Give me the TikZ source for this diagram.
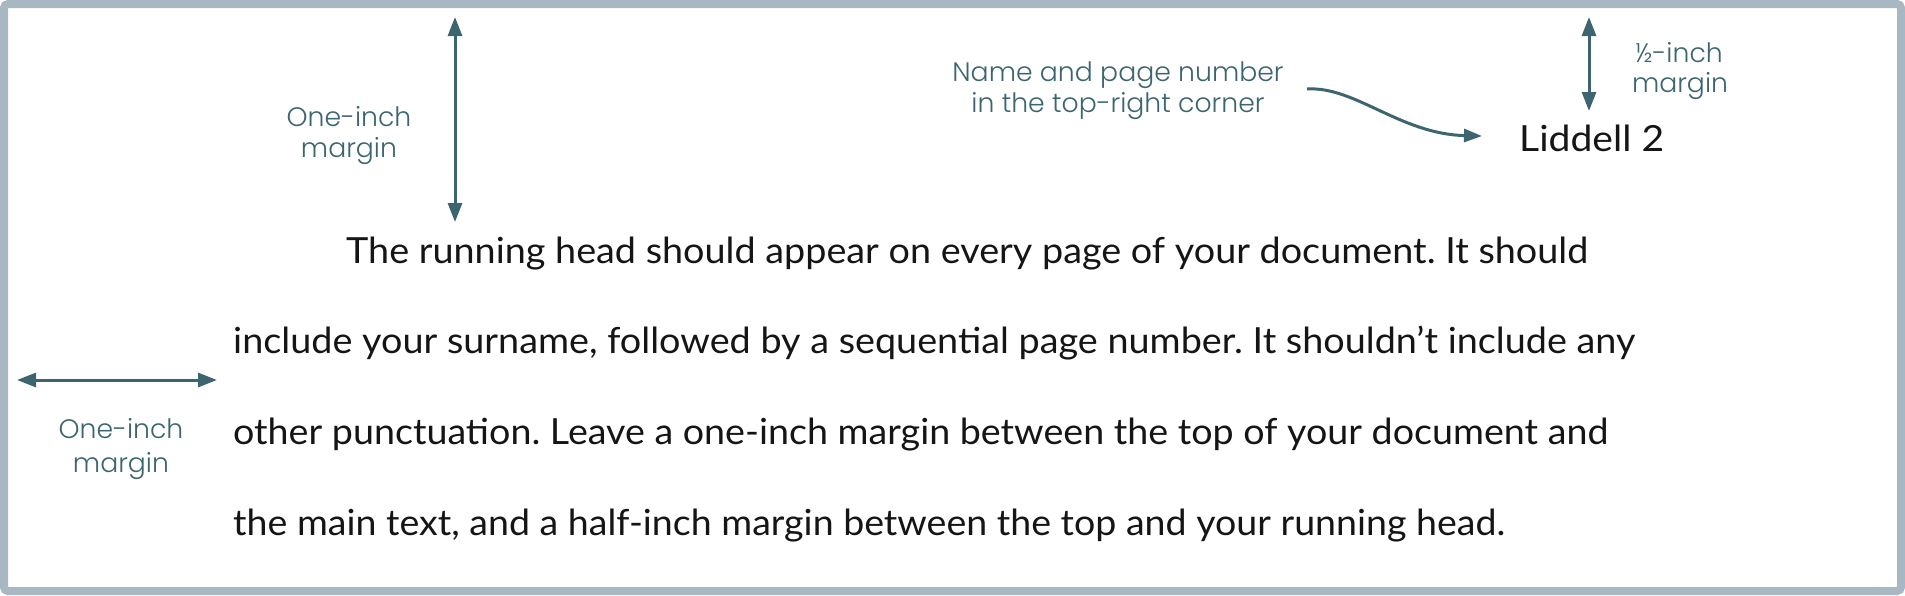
\documentclass[tikz,border=0pt]{standalone}
\usepackage{fontspec}
\usepackage{graphicx}
\usetikzlibrary{arrows.meta}
\setmainfont{Lato}
\newfontfamily\lblfont{Poppins Light}
\definecolor{tealink}{HTML}{3C6570}
\definecolor{framegrey}{HTML}{A8B8C2}
\definecolor{bodyink}{HTML}{151515}
\newlength\fitw
\newcommand\fitto[2]{\settowidth\fitw{#2}\scalebox{\fpeval{#1pt/\fitw}}[1]{#2}}
\frenchspacing
\begin{document}
\begin{tikzpicture}[x=1pt,y=-1pt,
  dblarrow/.style={draw=tealink, line width=3pt,
    {Triangle[length=19pt,width=14pt]}-{Triangle[length=19pt,width=14pt]}},
  onearrow/.style={draw=tealink, line width=3pt,
    -{Triangle[length=18pt,width=13pt]}},
  lbl/.style={font=\lblfont\fontsize{26.7}{30}\selectfont, text=tealink, inner sep=0pt, anchor=base},
  bodyline/.style={font=\fontsize{36}{40}\selectfont, text=bodyink, inner sep=0pt, anchor=base west}]
\useasboundingbox (0,0) rectangle (1905,595);
\draw[framegrey, line width=8pt, rounded corners=4pt] (4,4) rectangle (1901,591);

% top one-inch margin
\coordinate (v1t) at (455,17);
\coordinate (v1b) at (455,222);
\draw[dblarrow] (v1t) -- (v1b);
\node[lbl] (m1a) at (349,126) {One-inch};
\node[lbl] (m1b) at (349,157) {margin};

% left one-inch margin
\coordinate (h1l) at (17,380);
\coordinate (h1r) at (217,380);
\draw[dblarrow] (h1l) -- (h1r);
\node[lbl] (m2a) at (121,438) {One-inch};
\node[lbl] (m2b) at (121,472) {margin};

% half-inch margin
\coordinate (v2t) at (1589,17);
\coordinate (v2b) at (1589,111);
\draw[dblarrow] (v2t) -- (v2b);
\node[lbl] (m3a) at (1679,62) {½-inch};
\node[lbl] (m3b) at (1680,92) {margin};

% name and page number
\node[lbl] (n1a) at (1118,81) {Name and page number};
\node[lbl] (n1b) at (1118,112) {in the top-right corner};
\node[bodyline] (name) at (1519,151) {\fitto{145}{Liddell 2}};
\coordinate (cs) at (1307,89);
\coordinate (ce) at (1482,136);
\draw[onearrow] (cs) .. controls (1355,86) and (1400,134) .. (ce);

% body text
\node[bodyline] (l1) at (346,263) {\fitto{1242}{The running head should appear on every page of your document. It should}};
\node[bodyline] (l2) at (233,353) {\fitto{1402}{include your surname, followed by a sequential page number. It shouldn’t include any}};
\node[bodyline] (l3) at (233,444) {\fitto{1375}{other punctuation. Leave a one-inch margin between the top of your document and}};
\node[bodyline] (l4) at (233,535) {\fitto{1272}{the main text, and a half-inch margin between the top and your running head.}};
\end{tikzpicture}
\end{document}
